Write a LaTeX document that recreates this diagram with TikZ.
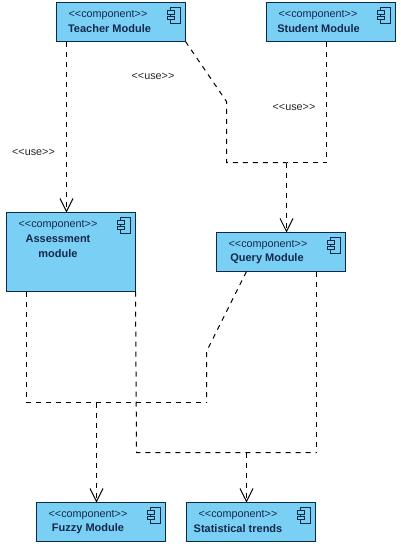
\documentclass[tikz,border=0pt]{standalone}
\usepackage{fontspec}
\setmainfont{Liberation Sans}
\usetikzlibrary{arrows.meta,calc}
\definecolor{compfill}{HTML}{7ACFF5}
\definecolor{compline}{HTML}{0B2A45}
\definecolor{comptext}{HTML}{14284A}
\tikzset{
  comp/.style={draw=compline,fill=compfill,line width=1pt,inner sep=0pt,outer sep=0pt,anchor=north west},
  stereo/.style={text=comptext,font=\fontsize{10.8}{13}\selectfont,inner sep=0pt},
  cname/.style={text=comptext,font=\fontsize{11}{15}\selectfont\bfseries,inner sep=0pt,align=center},
  use/.style={text=black!85,font=\fontsize{10.8}{12}\selectfont,inner sep=0pt},
  dep/.style={draw=black,line width=1pt,dash pattern=on 5pt off 5pt},
  deparrow/.style={dep,-{Straight Barb[length=13pt,width=13pt,line width=1pt]}},
  icon/.style={draw=compline,line width=0.9pt,fill=compfill}
}
\newcommand{\compicon}[2]{%
  \draw[icon] ($(#1)+(-15.5,4.5)$) rectangle ++(10.5,16);
  \draw[icon] ($(#1)+(-18.5,8)$) rectangle ++(7,3.5);
  \draw[icon] ($(#1)+(-18.5,13.5)$) rectangle ++(7,3.5);
}
\begin{document}
\begin{tikzpicture}[x=1pt,y=-1pt]
\useasboundingbox (0,0) rectangle (400,546);
\node[comp,minimum width=129pt,minimum height=39pt] (teacher) at (56.5,2.5) {};
\node[comp,minimum width=129pt,minimum height=39pt] (student) at (266.5,2.5) {};
\node[comp,minimum width=129pt,minimum height=79pt] (assess) at (6.5,212.5) {};
\node[comp,minimum width=129pt,minimum height=39pt] (query) at (216.5,232.5) {};
\node[comp,minimum width=129pt,minimum height=39pt] (fuzzy) at (36.5,502.5) {};
\node[comp,minimum width=129pt,minimum height=39pt] (stats) at (186.5,502.5) {};
\compicon{teacher.north east}{}
\compicon{student.north east}{}
\compicon{assess.north east}{}
\compicon{query.north east}{}
\compicon{fuzzy.north east}{}
\compicon{stats.north east}{}
\node[stereo] (s1) at (108,15) {<{}<component>{}>};
\node[cname] (n1) at (109.5,28.5) {Teacher Module};
\node[stereo] (s2) at (318,15) {<{}<component>{}>};
\node[cname] (n2) at (318.5,28.5) {Student Module};
\node[stereo] (s3) at (58,225) {<{}<component>{}>};
\node[cname] (n3) at (58,246) {Assessment\\module};
\node[stereo] (s4) at (268,245) {<{}<component>{}>};
\node[cname] (n4) at (267,258.5) {Query Module};
\node[stereo] (s5) at (88,515) {<{}<component>{}>};
\node[cname] (n5) at (88,528.5) {Fuzzy Module};
\node[stereo] (s6) at (238,515) {<{}<component>{}>};
\node[cname] (n6) at (238,528.5) {Statistical trends};
\node[use] (u1) at (153,76) {<{}<use>{}>};
\node[use] (u2) at (294,107) {<{}<use>{}>};
\node[use] (u3) at (33.5,152) {<{}<use>{}>};
% named junctions
\coordinate (tbend) at (226.5,101.5);
\coordinate (tdown) at (226.5,162.5);
\coordinate (sdown) at (326.5,162.5);
\coordinate (topj) at (286.5,162.5);
\coordinate (adown) at (26.5,402.5);
\coordinate (qbend) at (206.5,351.5);
\coordinate (qdown) at (206.5,402.5);
\coordinate (fj) at (96.5,402.5);
\coordinate (a2down) at (136.5,452.5);
\coordinate (q2down) at (316.5,452.5);
\coordinate (sj) at (246.5,452.5);
% connectors
\draw[deparrow] (teacher.south west -| 66.5,0) -- (assess.north west -| 66.5,0);
\draw[dep] (teacher.south east) -- (tbend) -- (tdown) -- (topj);
\draw[dep] (student.south -| sdown) -- (sdown) -- (topj);
\draw[deparrow] (topj) -- (query.north -| topj);
\draw[dep] (assess.south -| adown) -- (adown) -- (qdown);
\draw[dep] (query.south -| 246.5,0) -- (qbend) -- (qdown);
\draw[deparrow] (fj) -- (fuzzy.north -| fj);
\draw[dep] (assess.south east) -- (a2down) -- (q2down);
\draw[dep] (query.south -| q2down) -- (q2down);
\draw[deparrow] (sj) -- (stats.north -| sj);
\end{tikzpicture}
\end{document}
